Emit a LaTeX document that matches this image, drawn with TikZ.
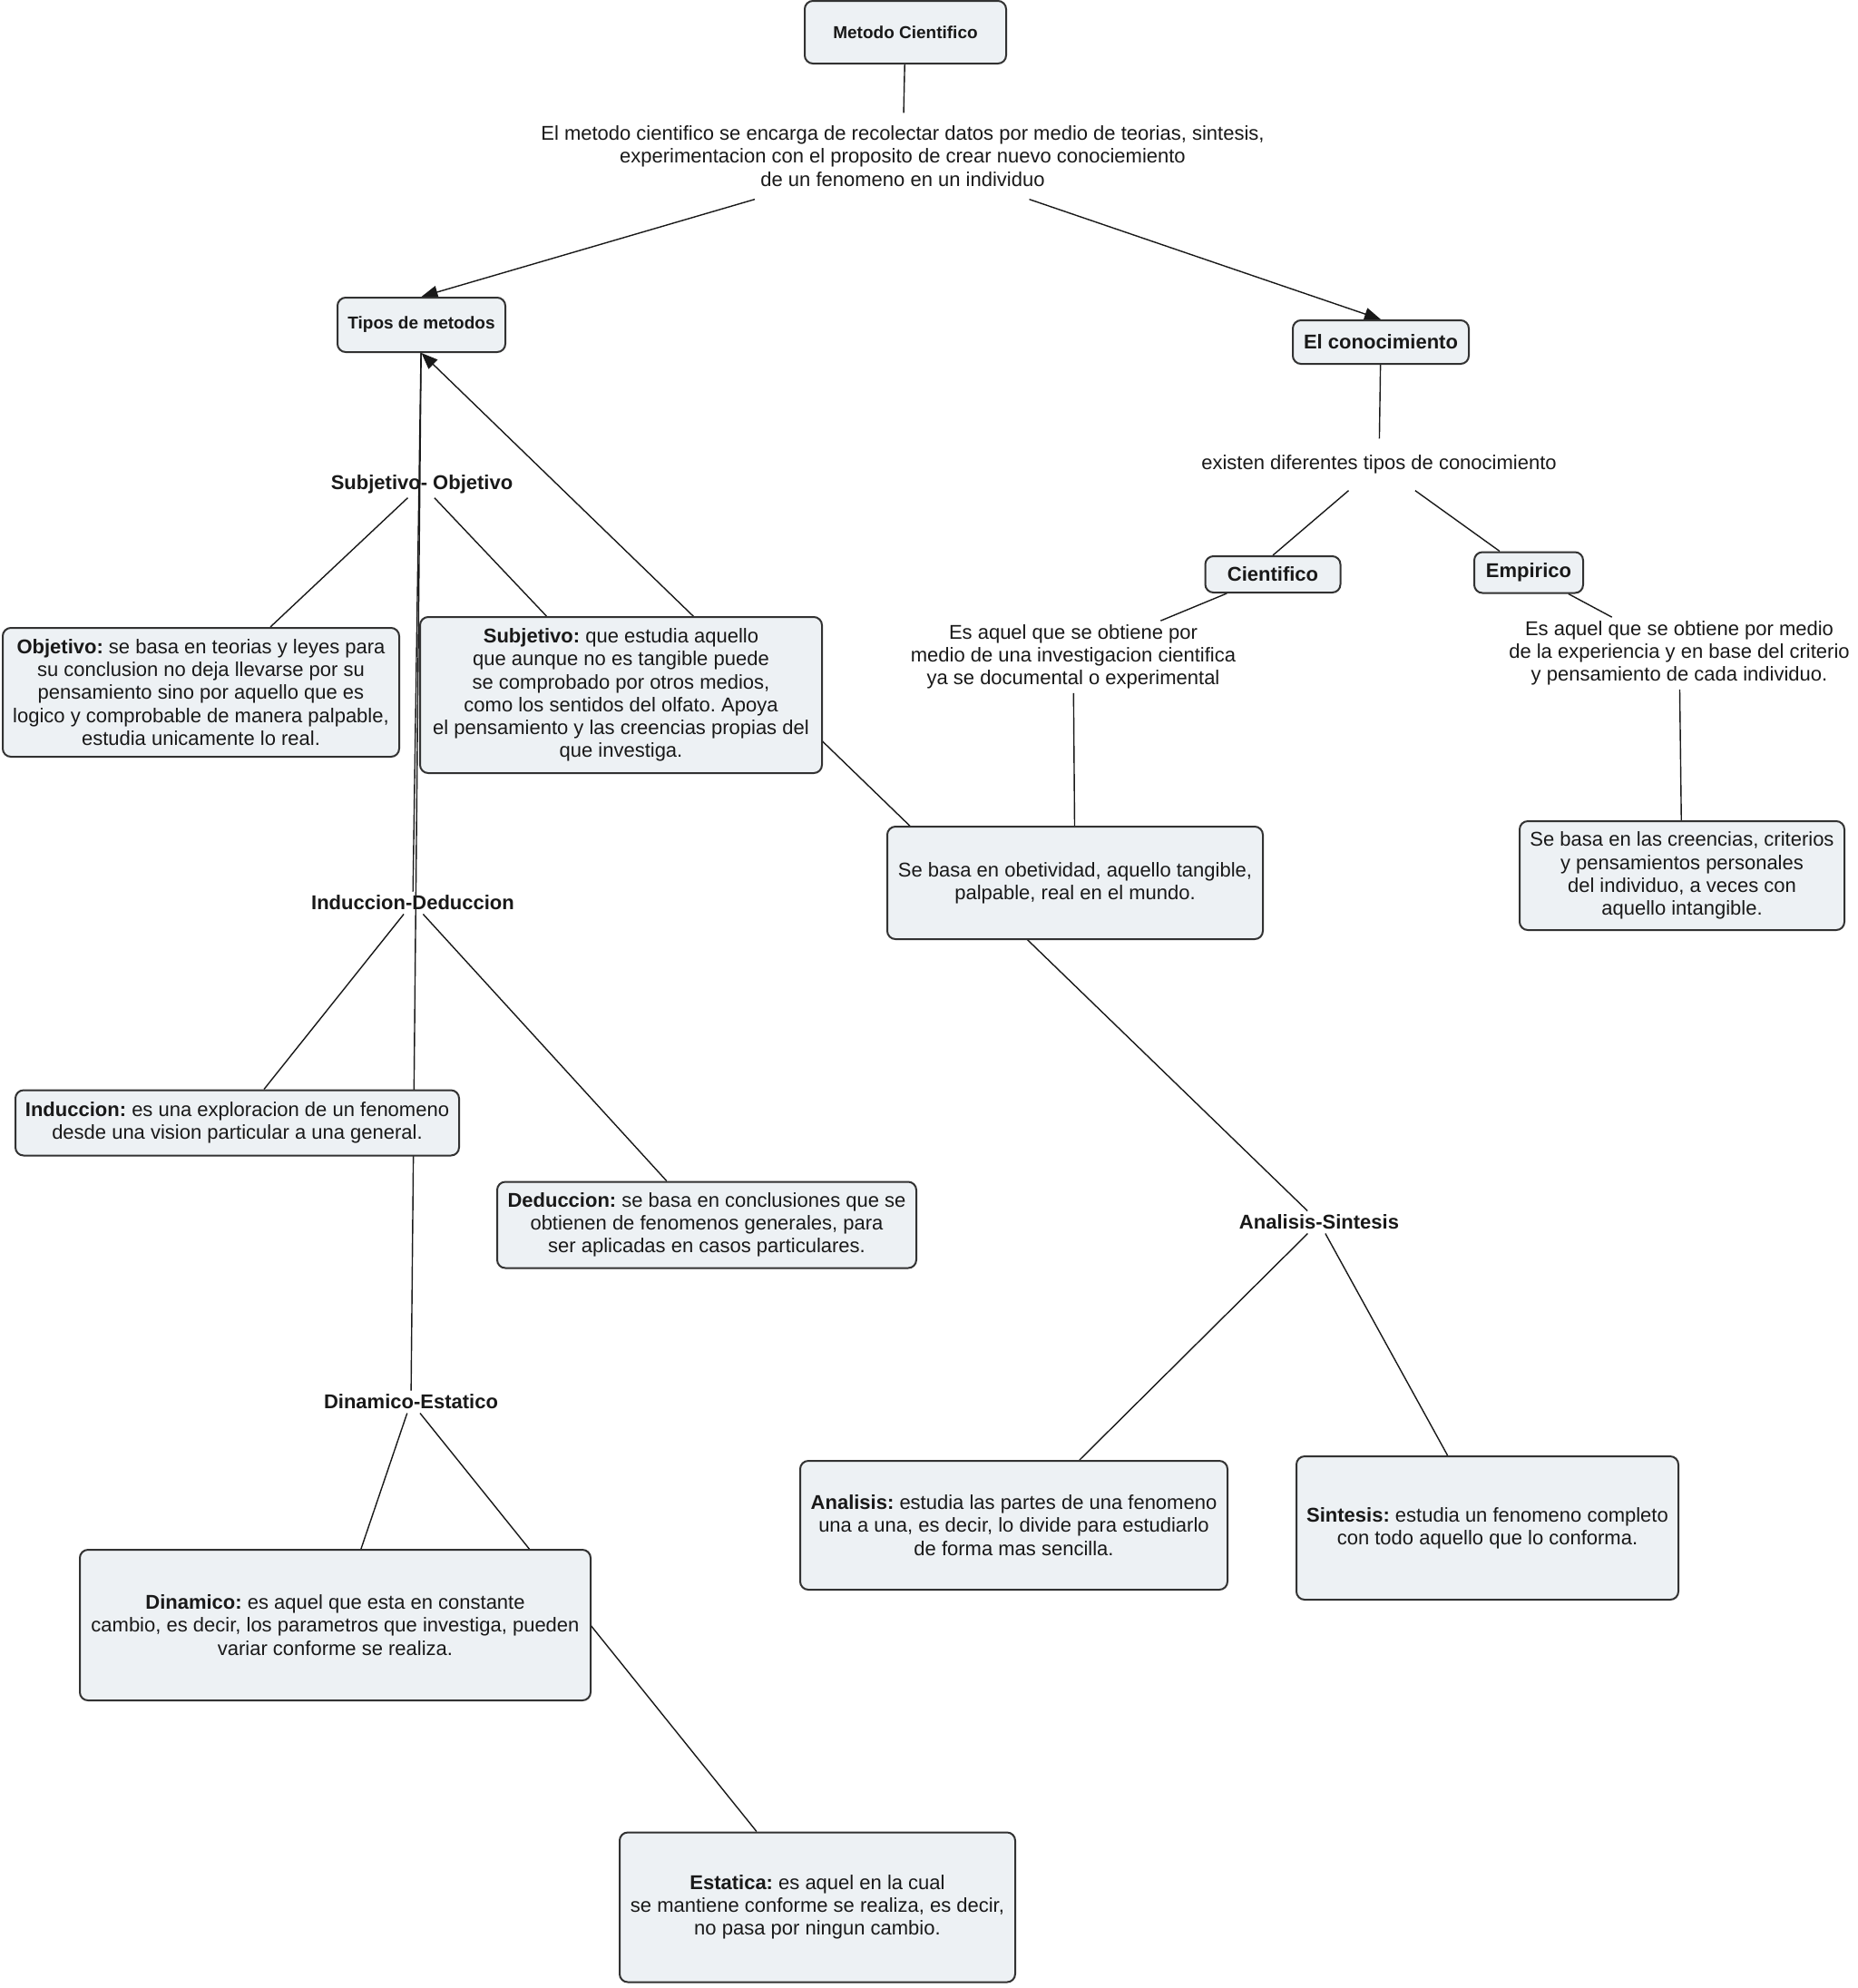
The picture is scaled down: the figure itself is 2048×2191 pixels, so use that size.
\documentclass[tikz,border=0pt]{standalone}
\usepackage{fontspec}
\setmainfont{Liberation Sans}
\usetikzlibrary{arrows.meta,calc}
\pgfdeclarelayer{bg}
\pgfsetlayers{bg,main}
\definecolor{boxfill}{RGB}{237,241,244}
\definecolor{boxline}{RGB}{50,50,50}
\definecolor{linkc}{RGB}{25,25,25}
\frenchspacing
\begin{document}
\begin{tikzpicture}[x=0.5pt,y=-0.5pt,
  concept/.style={draw=boxline, fill=boxfill, rounded corners=4.5pt, line width=1pt, align=center, inner sep=2pt, text=black!90, font=\fontsize{11}{12.6}\selectfont},
  conceptbold/.style={concept, font=\fontsize{11}{12.6}\selectfont\bfseries},
  conceptsmall/.style={concept, font=\fontsize{9.5}{11}\selectfont\bfseries},
  phrase/.style={align=center, inner sep=2pt, text=black!90, font=\fontsize{11}{12.6}\selectfont},
  phrasebold/.style={phrase, font=\fontsize{11}{12.6}\selectfont\bfseries},
  link/.style={draw=linkc, line width=0.7pt},
  linkarrow/.style={link, -{Triangle[length=9pt,width=7pt]}}
]
\useasboundingbox (0,0) rectangle (2048,2191);

% concepts and phrases
\node[conceptsmall, minimum width=111pt, minimum height=34.5pt] (metodo) at (998,35.5) {Metodo Cientifico};
\node[phrase, inner ysep=7pt] (intro) at (995,172) {El metodo cientifico se encarga de recolectar datos por medio de teorias, sintesis,\\experimentacion con el proposito de crear nuevo conociemiento\\de un fenomeno en un individuo};
\node[conceptsmall, minimum width=92.5pt, minimum height=30pt] (tipos) at (464.5,358) {Tipos de metodos};
\node[conceptbold, minimum width=97pt, minimum height=24pt] (conoc) at (1522,377) {El conocimiento};
\node[phrase, inner ysep=9pt] (existen) at (1520,512) {existen diferentes tipos de conocimiento};
\node[conceptbold, minimum width=74.5pt, minimum height=20pt] (cient) at (1403,633) {Cientifico};
\node[conceptbold, minimum width=60pt, minimum height=22.5pt] (empir) at (1685,631) {Empirico};
\node[phrase] (cienttxt) at (1183,724) {Es aquel que se obtiene por\\medio de una investigacion cientifica\\ya se documental o experimental};
\node[phrase] (empirtxt) at (1851,720) {Es aquel que se obtiene por medio\\de la experiencia y en base del criterio\\y pensamiento de cada individuo.};
\node[concept, minimum width=207pt, minimum height=62pt] (obet) at (1185,973) {Se basa en obetividad, aquello tangible,\\palpable, real en el mundo.};
\node[concept, minimum width=179pt, minimum height=60pt] (creen) at (1854,965) {Se basa en las creencias, criterios\\y pensamientos personales\\del individuo, a veces con\\aquello intangible.};
\node[phrasebold] (so) at (465,534) {Subjetivo- Objetivo};
\node[concept, minimum width=218.5pt, minimum height=71pt] (objet) at (221.5,763) {\textbf{Objetivo:} se basa en teorias y leyes para\\su conclusion no deja llevarse por su\\pensamiento sino por aquello que es\\logico y comprobable de manera palpable,\\estudia unicamente lo real.};
\node[concept, minimum width=221.5pt, minimum height=86pt] (subj) at (684.5,766) {\textbf{Subjetivo:} que estudia aquello\\que aunque no es tangible puede\\se comprobado por otros medios,\\como los sentidos del olfato. Apoya\\el pensamiento y las creencias propias del\\que investiga.};
\node[phrasebold] (id) at (455,995) {Induccion-Deduccion};
\node[concept, minimum width=244.5pt, minimum height=36pt] (induc) at (261.5,1237.5) {\textbf{Induccion:} es una exploracion de un fenomeno\\desde una vision particular a una general.};
\node[concept, minimum width=231pt, minimum height=47.5pt] (deduc) at (779,1350) {\textbf{Deduccion:} se basa en conclusiones que se\\obtienen de fenomenos generales, para\\ser aplicadas en casos particulares.};
\node[phrasebold] (de) at (453,1545) {Dinamico-Estatico};
\node[concept, minimum width=281.5pt, minimum height=83pt] (dinam) at (369.5,1791) {\textbf{Dinamico:} es aquel que esta en constante\\cambio, es decir, los parametros que investiga, pueden\\variar conforme se realiza.};
\node[concept, minimum width=218pt, minimum height=82.5pt] (estat) at (901,2102) {\textbf{Estatica:} es aquel en la cual\\se mantiene conforme se realiza, es decir,\\no pasa por ningun cambio.};
\node[phrasebold] (as) at (1454,1347) {Analisis-Sintesis};
\node[concept, minimum width=235.5pt, minimum height=71pt] (analis) at (1117.5,1681) {\textbf{Analisis:} estudia las partes de una fenomeno\\una a una, es decir, lo divide para estudiarlo\\de forma mas sencilla.};
\node[concept, minimum width=210.5pt, minimum height=79pt] (sintes) at (1639.5,1684) {\textbf{Sintesis:} estudia un fenomeno completo\\con todo aquello que lo conforma.};

% connectors behind the boxes
\begin{pgfonlayer}{bg}
\fill[white] (0,0) rectangle (2048,2191);
\draw[link] (metodo) -- (intro);
\draw[linkarrow] (intro) -- (tipos.north);
\draw[linkarrow] (intro) -- (conoc.north);
\draw[link] (conoc) -- (existen);
\draw[link] (existen) -- (cient.north);
\draw[link] (existen) -- ($(empir.north)+(-32,0)$);
\draw[link] (cient) -- (cienttxt);
\draw[link] (cienttxt) -- (obet);
\draw[link] (empir) -- (empirtxt);
\draw[link] (empirtxt) -- (creen);
\draw[link] (tipos) -- (id);
\draw[link] (tipos) -- (de);
\draw[link] (so) -- (objet);
\draw[link] (so) -- (subj);
\draw[linkarrow] (as) -- (tipos.south);
\draw[link] (id) -- (induc);
\draw[link] (id) -- (deduc);
\draw[link] (de) -- (dinam);
\draw[link] (de) -- (estat);
\draw[link] (as) -- (analis);
\draw[link] (as) -- (sintes);
\end{pgfonlayer}
\end{tikzpicture}
\end{document}
